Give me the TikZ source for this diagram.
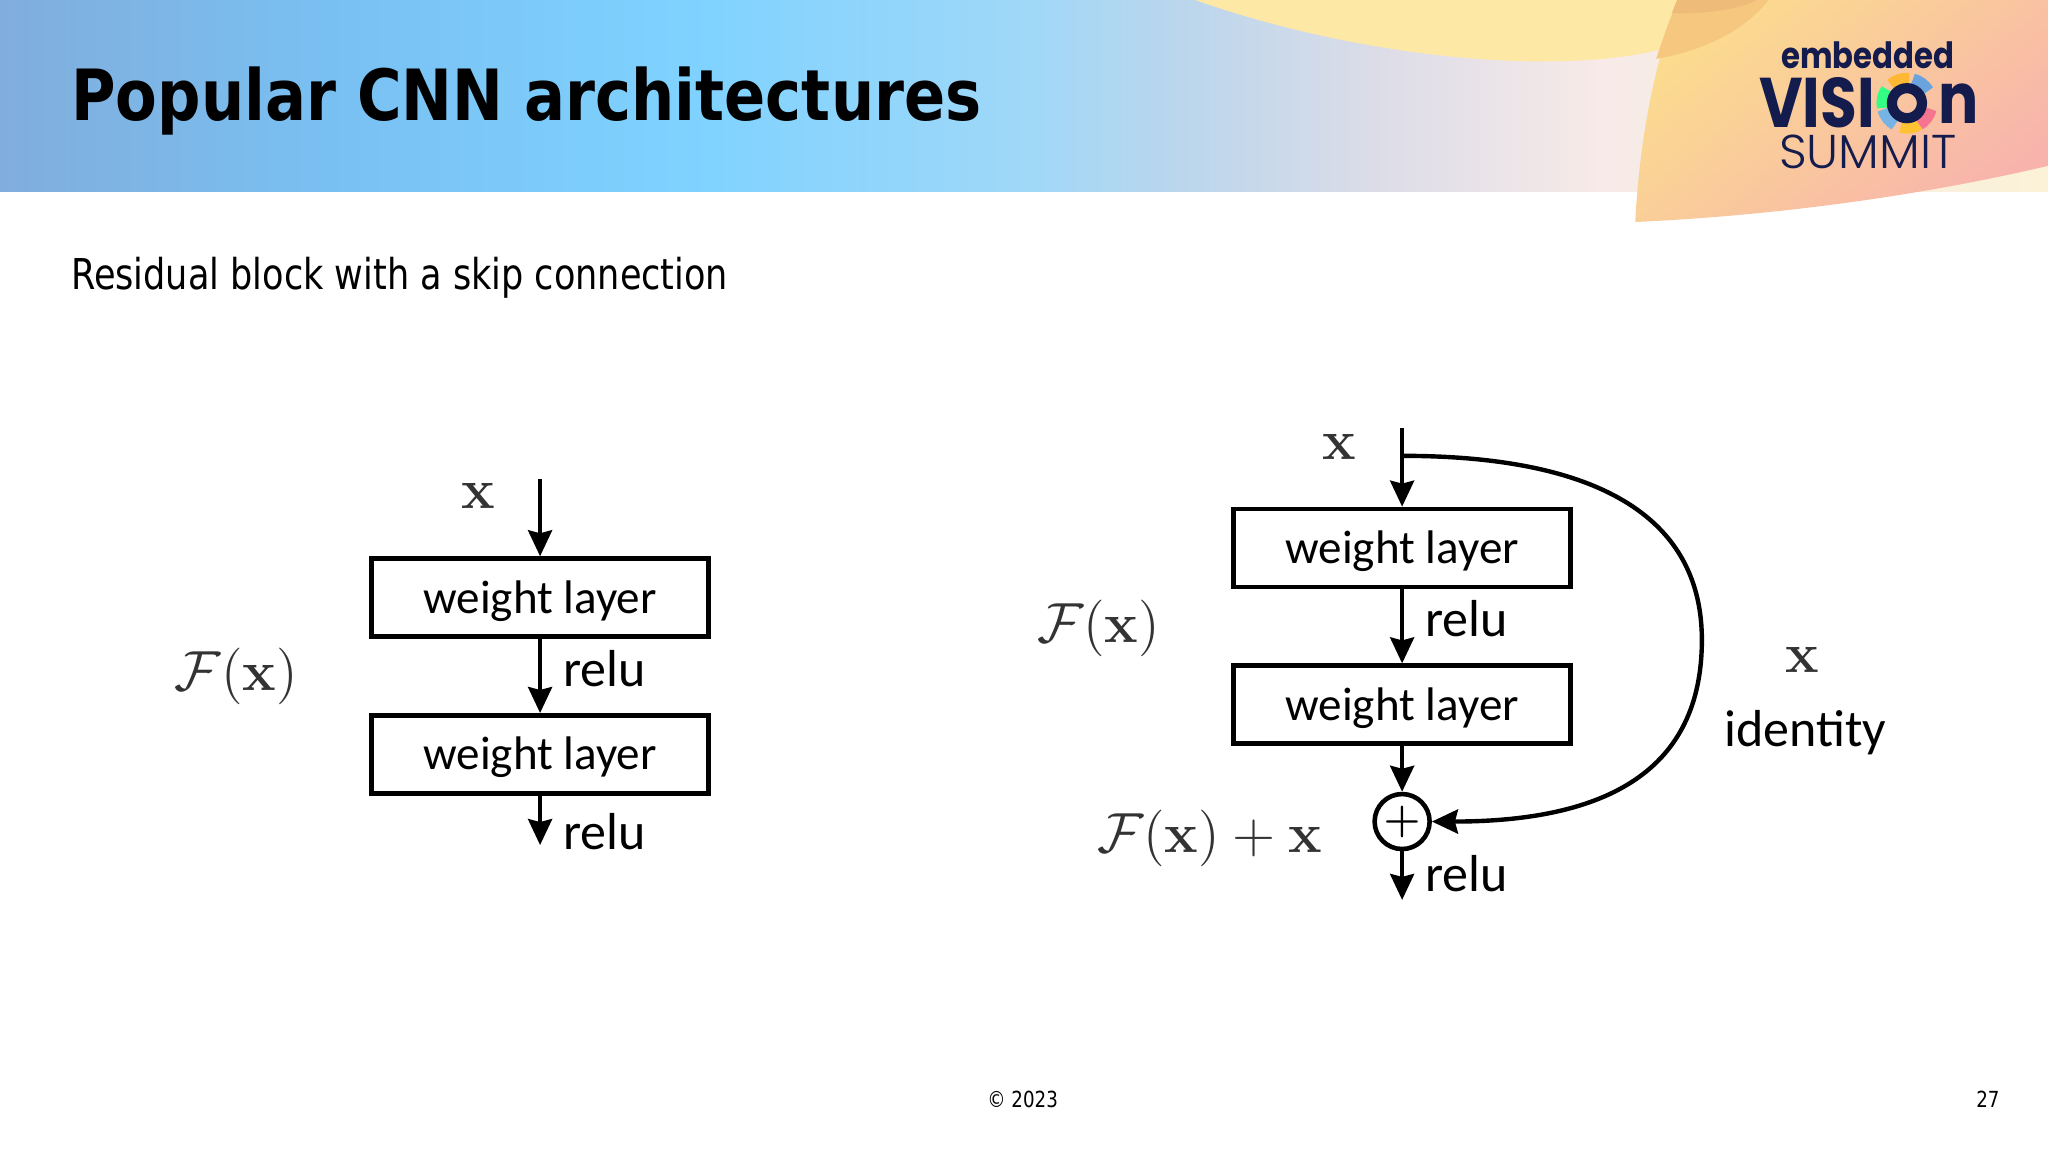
\documentclass[tikz,border=0pt]{standalone}
\usepackage[no-math]{fontspec}
\usepackage{amssymb}
\usepackage{amsmath}
\usetikzlibrary{arrows.meta}
\setmainfont{DejaVu Sans}
\newfontfamily\titlefont[FakeStretch=0.86]{DejaVu Sans}
\newfontfamily\bodyfont[FakeStretch=0.825]{DejaVu Sans}
\newfontfamily\blockfont{Carlito}
\newfontfamily\logofont[FakeStretch=0.85]{Poppins}
\newfontfamily\logolight[FakeStretch=1.02]{Poppins Light}
\definecolor{logonavy}{HTML}{141B4D}
\definecolor{mathgray}{HTML}{333333}
\definecolor{bandA}{HTML}{80ADDC}
\definecolor{bandB}{HTML}{79C0F2}
\definecolor{bandC}{HTML}{7FD2FF}
\definecolor{bandD}{HTML}{9FD8F8}
\definecolor{bandE}{HTML}{BCD6EC}
\definecolor{bandF}{HTML}{DEDDE8}
\definecolor{bandG}{HTML}{F7EAE8}
\definecolor{bandH}{HTML}{FBF2D8}
\definecolor{shapeyellow}{HTML}{FBDC8E}
\definecolor{shapepink}{HTML}{F8B4AC}
\definecolor{palewave}{HTML}{FDE8A6}
\definecolor{patchlight}{HTML}{F5C77F}
\definecolor{patchdark}{HTML}{EFBB78}
\pgfdeclarehorizontalshading{bandshade}{100bp}{
color(0bp)=(bandA);
color(25bp)=(bandA);
color(33bp)=(bandB);
color(42bp)=(bandC);
color(50bp)=(bandD);
color(54bp)=(bandE);
color(59bp)=(bandF);
color(64bp)=(bandG);
color(75bp)=(bandH);
color(100bp)=(bandH)}
\tikzset{
  weightbox/.style={draw,line width=1.3pt,fill=white,minimum width=3.37cm,minimum height=0.78cm,inner sep=0pt,
    text height=0.39cm,text depth=0.08cm,font=\blockfont\fontsize{13.4}{15}\selectfont},
  blocktext/.style={inner sep=0pt,font=\blockfont\fontsize{14.8}{17}\selectfont},
  mathtext/.style={inner sep=0pt,text=mathgray,font=\fontsize{12}{14}\selectfont,scale=1.34,transform shape},
  flow/.style={line width=1.1pt,-{Stealth[length=2.6mm,width=2.4mm,inset=0.3mm]}},
  sumcircle/.style={draw,circle,line width=1.3pt,minimum size=0.55cm,inner sep=0pt,font=\fontsize{12}{14}\selectfont},
  logotext/.style={inner sep=0pt,text=logonavy},
}
\begin{document}
\begin{tikzpicture}[x=0.013061cm,y=-0.013061cm]
\useasboundingbox (0,0) rectangle (1568,882);
% header
\shade[shading=bandshade] (0,0) rectangle (1568,147);
\fill[color=palewave] (915,0) .. controls (1000,30) and (1100,47) .. (1180,47) .. controls (1240,47) and (1300,40) .. (1354,0) -- cycle;
\shade[top color=shapeyellow,bottom color=shapepink,shading angle=40] (1285,0) .. controls (1266,50) and (1255,110) .. (1252,170) .. controls (1360,165) and (1470,150) .. (1568,127) -- (1568,0) -- cycle;
\fill[color=patchlight] (1285,0) .. controls (1278,15) and (1273,30) .. (1268,45) .. controls (1300,40) and (1335,25) .. (1354,0) -- cycle;
\fill[color=patchdark] (1284,0) -- (1280,10) .. controls (1300,11) and (1330,8) .. (1345,0) -- cycle;
\node[anchor=west,inner sep=0pt,font=\titlefont\bfseries\fontsize{20.1}{22}\selectfont] (title) at (54,77) {Popular CNN architectures};
\node[anchor=west,inner sep=0pt,font=\bodyfont\fontsize{12.1}{14}\selectfont] (subtitle) at (54,213) {Residual block with a skip connection};
% logo
\node[logotext,font=\logofont\bfseries\fontsize{10.3}{14}\selectfont] (logotop) at (1430,42) {embedded};
\node[logotext,anchor=east,font=\logofont\bfseries\fontsize{20}{26}\selectfont] (logovisi) at (1436,79) {VISI};
\node[logotext,anchor=west,font=\logofont\bfseries\fontsize{20}{26}\selectfont] (logon) at (1484,79) {n};
\coordinate (ring) at (1460,79);
\foreach \a/\c in {30/cyan!60!blue!60!white,85/orange!70!yellow!80!white,145/green!60!cyan!80!white,195/cyan!70!blue!55!white,255/orange!60!yellow!80!white,300/magenta!50!red!55!white}
  \draw[color=\c,line width=3.4pt] ([shift={(\a:0.245cm)}]ring) arc[start angle=\a,end angle=\a+46,radius=0.245cm];
\node[draw=logonavy,line width=2.9pt,circle,minimum size=0.30cm,inner sep=0pt] (logoo) at (ring) {};
\node[logotext,font=\logolight\fontsize{13.5}{16}\selectfont] (logobottom) at (1430,116) {SUMMIT};
% left block
\coordinate (lin) at (413.5,367);
\node[weightbox] (lbox1) at (413.5,457.5) {weight layer};
\node[weightbox] (lbox2) at (413.5,577.5) {weight layer};
\coordinate (lout) at (413.5,647);
\draw[flow] (lin) -- (lbox1);
\draw[flow] (lbox1) -- (lbox2);
\draw[flow] (lbox2) -- (lout);
\node[mathtext] (lx) at (366,380) {$\mathbf{x}$};
\node[mathtext] (lf) at (181,518) {$\mathcal{F}(\mathbf{x})$};
\node[blocktext] (lrelu1) at (463,512) {relu};
\node[blocktext] (lrelu2) at (463,637) {relu};
% right block
\coordinate (rin) at (1073.5,328);
\coordinate (rsplit) at (1073.5,349);
\node[weightbox] (rbox1) at (1073.5,419.5) {weight layer};
\node[weightbox] (rbox2) at (1073.5,539.5) {weight layer};
\node[sumcircle] (rsum) at (1073.5,629) {$\boldsymbol{+}$};
\coordinate (rout) at (1073.5,689);
\draw[flow] (rin) -- (rbox1);
\draw[flow] (rbox1) -- (rbox2);
\draw[flow] (rbox2) -- (rsum);
\draw[flow] (rsum) -- (rout);
\draw[flow,line width=1.25pt] (rsplit) .. controls (1230,349) and (1303,400) .. (1303,490) .. controls (1303,590) and (1230,629) .. (rsum.east);
\node[mathtext] (rx) at (1025,342) {$\mathbf{x}$};
\node[mathtext] (rf) at (841,481) {$\mathcal{F}(\mathbf{x})$};
\node[mathtext] (rsumlabel) at (926,642) {$\mathcal{F}(\mathbf{x})+\mathbf{x}$};
\node[mathtext] (rxid) at (1380,505) {$\mathbf{x}$};
\node[blocktext] (ridentity) at (1382,561) {identity};
\node[blocktext] (rrelu1) at (1123,474) {relu};
\node[blocktext] (rrelu2) at (1123,669) {relu};
% footer
\node[inner sep=0pt,font=\bodyfont\fontsize{6.3}{8}\selectfont] (copyright) at (783,842) {© 2023};
\node[inner sep=0pt,font=\bodyfont\fontsize{6.3}{8}\selectfont] (pagenum) at (1522,842) {27};
\end{tikzpicture}
\end{document}
